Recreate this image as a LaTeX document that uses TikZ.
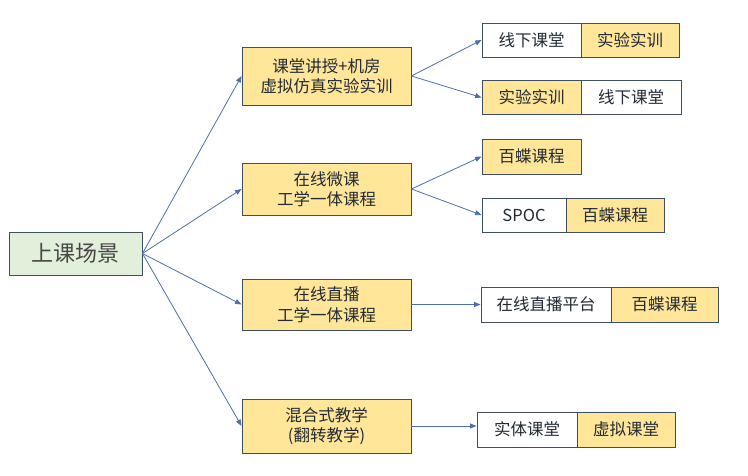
\documentclass[tikz,border=0pt]{standalone}
\usepackage{fontspec}
\setmainfont{Noto Sans CJK SC}
\usetikzlibrary{arrows.meta}
\definecolor{bordc}{HTML}{3E4E63}
\definecolor{goldf}{HTML}{FFE699}
\definecolor{greenf}{HTML}{E2EFDA}
\definecolor{arrc}{HTML}{4A6FAE}
\definecolor{txtc}{HTML}{222A35}
\begin{document}
\begin{tikzpicture}[x=1pt,y=-1pt,
  box/.style={draw=bordc,line width=0.9pt,inner sep=0pt,align=center,text=txtc,font=\fontsize{16.5}{20.5}\selectfont},
  rootbox/.style={box,fill=greenf,text=black!72,font=\fontsize{22}{26}\selectfont,minimum width=133pt,minimum height=43pt},
  midbox/.style={box,fill=goldf,minimum width=169pt,minimum height=55pt},
  gbox/.style={box,fill=goldf,minimum height=34pt},
  wbox/.style={box,fill=white,minimum height=34pt},
  arr/.style={draw=arrc,line width=0.8pt,-{Triangle[length=6.5pt,width=5pt]}}]
\useasboundingbox (0,0) rectangle (748,475);

\node[rootbox] (root) at (75.5,253.5) {上课场景};

\node[midbox,minimum height=58pt] (b1) at (326.5,76) {课堂讲授+机房\\虚拟仿真实验实训};
\node[midbox,minimum height=52pt] (b2) at (326.5,189) {在线微课\\工学一体课程};
\node[midbox,minimum height=51pt] (b3) at (326.5,304.5) {在线直播\\工学一体课程};
\node[midbox,minimum height=54pt] (b4) at (326.5,426) {混合式教学\\(翻转教学)};

\node[wbox,minimum width=99pt] (r1a) at (531.5,40) {线下课堂};
\node[gbox,minimum width=98pt] (r1b) at (630,40) {实验实训};

\node[gbox,minimum width=99pt] (r2a) at (531.5,97.5) {实验实训};
\node[wbox,minimum width=100pt] (r2b) at (631,97.5) {线下课堂};

\node[gbox,minimum width=99pt,minimum height=35pt] (r3a) at (531.5,156.5) {百蝶课程};

\node[wbox,minimum width=84pt] (r4a) at (524,215) {SPOC};
\node[gbox,minimum width=98pt] (r4b) at (615,215) {百蝶课程};

\node[wbox,minimum width=130pt,minimum height=35pt] (r5a) at (546,304.5) {在线直播平台};
\node[gbox,minimum width=107pt,minimum height=35pt] (r5b) at (664.5,304.5) {百蝶课程};

\node[wbox,minimum width=100pt,minimum height=35pt] (r6a) at (527,429.5) {实体课堂};
\node[gbox,minimum width=98pt,minimum height=35pt] (r6b) at (626,429.5) {虚拟课堂};

\draw[arr] (root.east) -- (b1.west);
\draw[arr] (root.east) -- (b2.west);
\draw[arr] (root.east) -- (b3.west);
\draw[arr] (root.east) -- (b4.west);

\draw[arr] (b1.east) -- (r1a.west);
\draw[arr] (b1.east) -- (r2a.west);
\draw[arr] (b2.east) -- (r3a.west);
\draw[arr] (b2.east) -- (r4a.west);
\draw[arr] (b3.east) -- (r5a.west);
\draw[arr] (b4.east) -- (b4.east -| r6a.west);
\end{tikzpicture}
\end{document}
